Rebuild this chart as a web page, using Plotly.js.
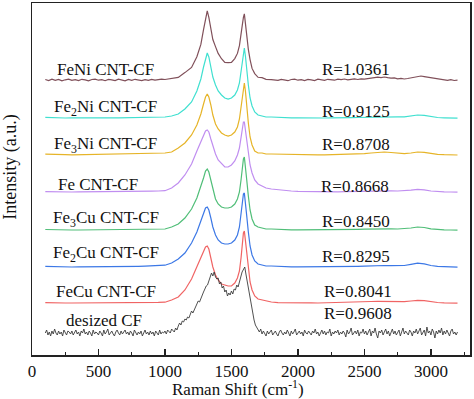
<!DOCTYPE html>
<html>
<head>
<meta charset="utf-8">
<script src="https://cdn.plot.ly/plotly-3.0.1.min.js"></script>
<style>
  html, body { margin: 0; padding: 0; background: #fff; }
  #chart { width: 474px; height: 399px; }
</style>
</head>
<body>
<div id="chart"></div>
<script>
// Raman spectra of CNT-grown carbon fibres, stacked with a vertical offset per sample.

function range(start, stop, step) {
  const out = [];
  for (let v = start; v <= stop; v += step) out.push(v);
  return out;
}

// Raman shift sampling (cm^-1)
const peakShift = [1050,1100,1150,1200,1240,1270,1290,1305,1318,1330,1345,1360,1380,1400,1425,1450,1475,1500,1525,1545,1560,1572,1582,1590,1597,1605,1615,1627,1640,1655,1675,1700,1730,1760,1800];
const shift = range(100, 1000, 50).concat(peakShift, range(1850, 3200, 50));
const shiftFeNi = range(100, 1000, 25).concat(peakShift, range(1825, 3200, 25));
const shiftDesized = range(100, 3200, 10);

// Sample names, ID/IG ratios, colours and stacking offsets (top to bottom)
const samples = ['FeNi CNT-CF', 'Fe<sub>2</sub>Ni CNT-CF', 'Fe<sub>3</sub>Ni CNT-CF', 'Fe CNT-CF',
                 'Fe<sub>3</sub>Cu CNT-CF', 'Fe<sub>2</sub>Cu CNT-CF', 'FeCu CNT-CF', 'desized CF'];
const ratios = ['R=1.0361', 'R=0.9125', 'R=0.8708', 'R=0.8668', 'R=0.8450', 'R=0.8295', 'R=0.8041', 'R=0.9608'];
const colors = ['#80505a', '#40e0d0', '#e6b428', '#c08ef0', '#50be78', '#3c78e6', '#f06464', '#3c3c3c'];
const offsets = [275, 237, 200, 163, 125, 88, 52, 0];

// Intensities (a.u.)
const feNi = [
  0.5,-0.5,0.8,-0.3,0.6,-0.8,0.2,0.9,-0.4,0.3,
  -0.6,0.7,0.1,-0.9,0.5,0.8,-0.2,0.4,-0.7,0.6,
  0.2,-0.5,0.9,0,-0.8,0.5,-0.3,0.7,0.1,-0.6,
  0.4,-0.4,0.6,-0.2,0.3,0.8,0.5,
  1.3,2.6,7.4,12.6,23.3,35.6,50.4,61.6,69.2,62.6,
  51.4,40.5,33.4,26.6,21.3,17.6,17.4,17.6,21.4,26.6,
  34.3,43.6,55.4,62.7,66.2,56.6,44.3,30.7,20.4,11.6,
  6.4,2.7,2.3,0.7,0.4,
  0.3,-0.4,0.6,0.1,-0.7,0.5,0.9,-0.2,0.4,-0.5,
  0.6,0.2,-0.6,0.8,0.1,-0.3,0.7,0.4,-0.2,0.9,
  0.3,1.0,0.2,0.7,1.1,0.5,1.2,0.8,1.4,1.9,
  2.2,2.8,2.4,3.0,2.3,1.8,2.1,1.2,1.6,1.0,
  1.5,2.2,2.8,3.6,4.0,3.4,2.9,2.0,1.4,0.9,
  0.6,0.2,-0.3,0.4,-0.5,-0.2
];
const fe2Ni = [
  0.6,0.2,0.0,0.0,0.1,0.0,0.1,0.0,0.1,0.2,0.1,0.2,0.3,0.3,0.4,0.5,0.6,0.8,1.0,
  2,4,9,16,27,39,51,60,65,61,51,41,33,27,23,20,19,20,23,28,35,47,60,68,70,62,47,33,20,12,6,3,2,1,1,
  0.5,0.3,0.2,0.2,0,0.1,0,0,0.1,0,0.2,0.3,0.5,0.7,1.0,1.3,1.5,1.4,1.2,1.2,2.0,3.0,2.6,1.2,0.5,0.2,0,-0.2
];
const fe3Ni = [
  0.8,0.4,0.3,0.3,0.2,0.3,0.3,0.4,0.4,0.5,0.5,0.6,0.7,0.8,0.9,1.1,1.3,1.6,2.0,
  3,7,12,20,30,41,51,58,61,58,50,40,31,26,22,20,19,20,23,28,36,48,62,70,72,64,48,32,18,10,4,2,2,1,1,
  0.8,0.5,0.3,0.3,0.2,0.3,0.2,0.1,0.3,0.3,0.4,0.6,0.9,1.3,2.0,2.8,3.0,2.5,1.6,1.3,2.0,3.0,2.7,1.3,0.6,0.3,0.1,0
];
const fe = [
  0.3,0.1,0.0,0.0,0.0,0.1,0.1,0.1,0.2,0.2,0.2,0.3,0.3,0.4,0.5,0.6,0.8,1.0,1.3,
  4,9,17,28,41,51,57,61,62,60,53,46,38,32,28,25,25,27,31,37,44,55,65,70,70,63,53,40,27,19,12,8,6,4,3,
  2.2,1.6,1.0,0.7,0.5,0.3,0.2,0.1,0.1,0.2,0.3,0.5,0.7,0.9,1.1,1.3,1.4,1.2,1.0,1.1,1.8,2.6,2.2,1.0,0.4,0.2,0,-0.2
];
const fe3Cu = [
  0.5,0.2,0.1,0.0,0.0,0.0,0.1,0.1,0.1,0.2,0.2,0.3,0.3,0.4,0.5,0.6,0.7,0.8,1.0,
  3,6,12,21,32,43,52,59,61,58,49,40,31,26,23,22,22,23,26,31,38,50,64,71,73,65,50,34,20,11,5,3,2,1,1,
  0.5,0.3,0.2,0.1,0.1,0,0.1,0,0.1,0.2,0.3,0.4,0.6,0.8,1.0,1.2,1.3,1.1,1.0,1.2,2.0,3.0,2.5,1.2,0.5,0.2,0,-0.1
];
const fe2Cu = [
  0.6,0.3,0.1,0.1,0.0,0.1,0.1,0.2,0.2,0.3,0.3,0.4,0.5,0.6,0.7,0.9,1.1,1.4,1.8,
  4,8,14,24,35,46,54,59,60,57,49,40,32,27,24,23,23,24,27,32,40,52,66,73,74,66,51,35,21,12,6,3,2,1,1,
  0.5,0.3,0.2,0.1,0.1,0,0,0.1,0.1,0.2,0.3,0.5,0.7,0.9,1.2,1.4,1.5,1.3,1.2,1.5,2.6,3.8,3.2,1.5,0.6,0.2,0,-0.1
];
const feCu = [
  0.4,0.1,0.0,0.0,0.0,0.0,0.1,0.1,0.1,0.1,0.2,0.2,0.2,0.3,0.3,0.4,0.5,0.6,0.8,
  3,6,13,24,36,45,52,56,57,54,45,36,28,23,19,18,17,17,20,25,32,45,60,70,72,62,48,34,21,13,7,4,3,2,1,
  0.4,0.2,0.1,0.1,0,0.1,0,0.1,0.2,0.3,0.4,0.6,0.9,1.2,1.5,1.7,1.6,1.3,1.1,1.3,2.0,2.7,2.3,1.1,0.5,0.2,0,-0.1
];
const desized = [
  22,25,20,23,19,24,21,26,22,20,24,21,23,19,25,22,20,24,23,21,
  24,20,22,25,21,23,19,24,22,26,21,23,20,24,22,19,25,21,23,22,
  20,24,22,19,25,21,23,26,20,22,24,21,19,23,25,22,20,24,21,23,
  25,21,23,20,24,22,19,25,22,20,23,21,24,19,22,25,21,23,20,24,
  21,23,19,24,22,20,25,21,23,22,24,21,25,23,22,26,24,23,27,25,
  29,32,30,34,33,36,35,38,37,41,44,42,46,48,51,54,53,57,60,63,
  66,69,70,75,78,82,79,83,78,76,77,71,73,67,69,63,65,59,62,60,
  64,61,66,65,70,68,75,78,83,86,88,80,72,64,55,47,39,35,30,28,
  25,23,26,21,24,22,19,24,21,23,25,20,22,24,21,19,23,25,22,20,
  23,21,25,22,19,24,21,23,26,20,22,24,21,23,19,25,22,21,24,22,
  20,24,22,26,21,23,19,22,25,21,24,20,23,22,26,19,23,21,24,22,
  25,20,23,21,24,22,18,25,21,23,27,20,22,24,21,25,19,23,22,26,
  21,24,20,23,26,19,24,22,27,21,17,24,22,25,20,23,26,21,24,19,
  23,26,21,24,20,22,25,19,23,27,21,24,22,20,25,23,19,24,22,26,
  21,24,27,20,23,25,19,28,22,24,20,26,23,17,24,21,25,22,27,20,
  24,21,25,22,19,24,26,21,23,20,23
];

const spectra = [feNi, fe2Ni, fe3Ni, fe, fe3Cu, fe2Cu, feCu, desized];
const shifts = [shiftFeNi, shift, shift, shift, shift, shift, shift, shiftDesized];

// Label placement (Raman shift, stacked intensity)
const nameX = [553, 553, 553, 500, 553, 553, 553, 538];
const nameY = [286, 247, 210, 171, 136, 101, 64, 35];
const ratioX = [2434, 2434, 2434, 2428, 2434, 2434, 2450, 2450];
const ratioY = [286, 244, 211, 169, 134, 99, 64, 42];

const serif = 'Liberation Serif';

const traces = spectra.map((vals, i) => ({
  x: shifts[i],
  y: vals.map(v => v + offsets[i]),
  type: 'scatter',
  mode: 'lines',
  line: { color: colors[i], width: i === 7 ? 0.9 : 1.2 },
  hoverinfo: 'skip'
}));

const annotations = [];
samples.forEach((s, i) => {
  annotations.push({ x: nameX[i], y: nameY[i], xref: 'x', yref: 'y', text: s, showarrow: false,
    xanchor: 'center', yanchor: 'middle', font: { family: serif, size: 17, color: '#111' } });
  annotations.push({ x: ratioX[i], y: ratioY[i], xref: 'x', yref: 'y', text: ratios[i], showarrow: false,
    xanchor: 'center', yanchor: 'middle', font: { family: serif, size: 17, color: '#111' } });
});
annotations.push({ x: 0.471, y: -0.094, xref: 'paper', yref: 'paper', text: 'Raman Shift (cm<sup>-1</sup>)',
  showarrow: false, xanchor: 'center', yanchor: 'middle', font: { family: serif, size: 17, color: '#111' } });
annotations.push({ x: -0.051, y: 0.534, xref: 'paper', yref: 'paper', text: 'Intensity (a.u.)', textangle: -90,
  showarrow: false, xanchor: 'center', yanchor: 'middle', font: { family: serif, size: 18, color: '#111' } });

const layout = {
  width: 474,
  height: 399,
  margin: { l: 32, r: 4, t: 3, b: 44 },
  paper_bgcolor: '#fff',
  plot_bgcolor: '#fff',
  showlegend: false,
  font: { family: serif, color: '#111' },
  xaxis: {
    range: [0, 3294],
    tick0: 0,
    dtick: 500,
    ticks: 'inside',
    ticklen: 6,
    tickwidth: 1.2,
    tickcolor: '#222',
    minor: { dtick: 250, ticks: 'inside', ticklen: 3, tickwidth: 1, tickcolor: '#222' },
    showline: true,
    mirror: true,
    linecolor: '#222',
    linewidth: 1.5,
    showgrid: false,
    zeroline: false,
    tickfont: { family: serif, size: 17, color: '#111' }
  },
  yaxis: {
    range: [0, 352],
    showticklabels: false,
    ticks: '',
    showline: true,
    mirror: true,
    linecolor: '#222',
    linewidth: 1.5,
    showgrid: false,
    zeroline: false
  },
  annotations: annotations
};

Plotly.newPlot('chart', traces, layout, { displayModeBar: false, staticPlot: true });
</script>
</body>
</html>
